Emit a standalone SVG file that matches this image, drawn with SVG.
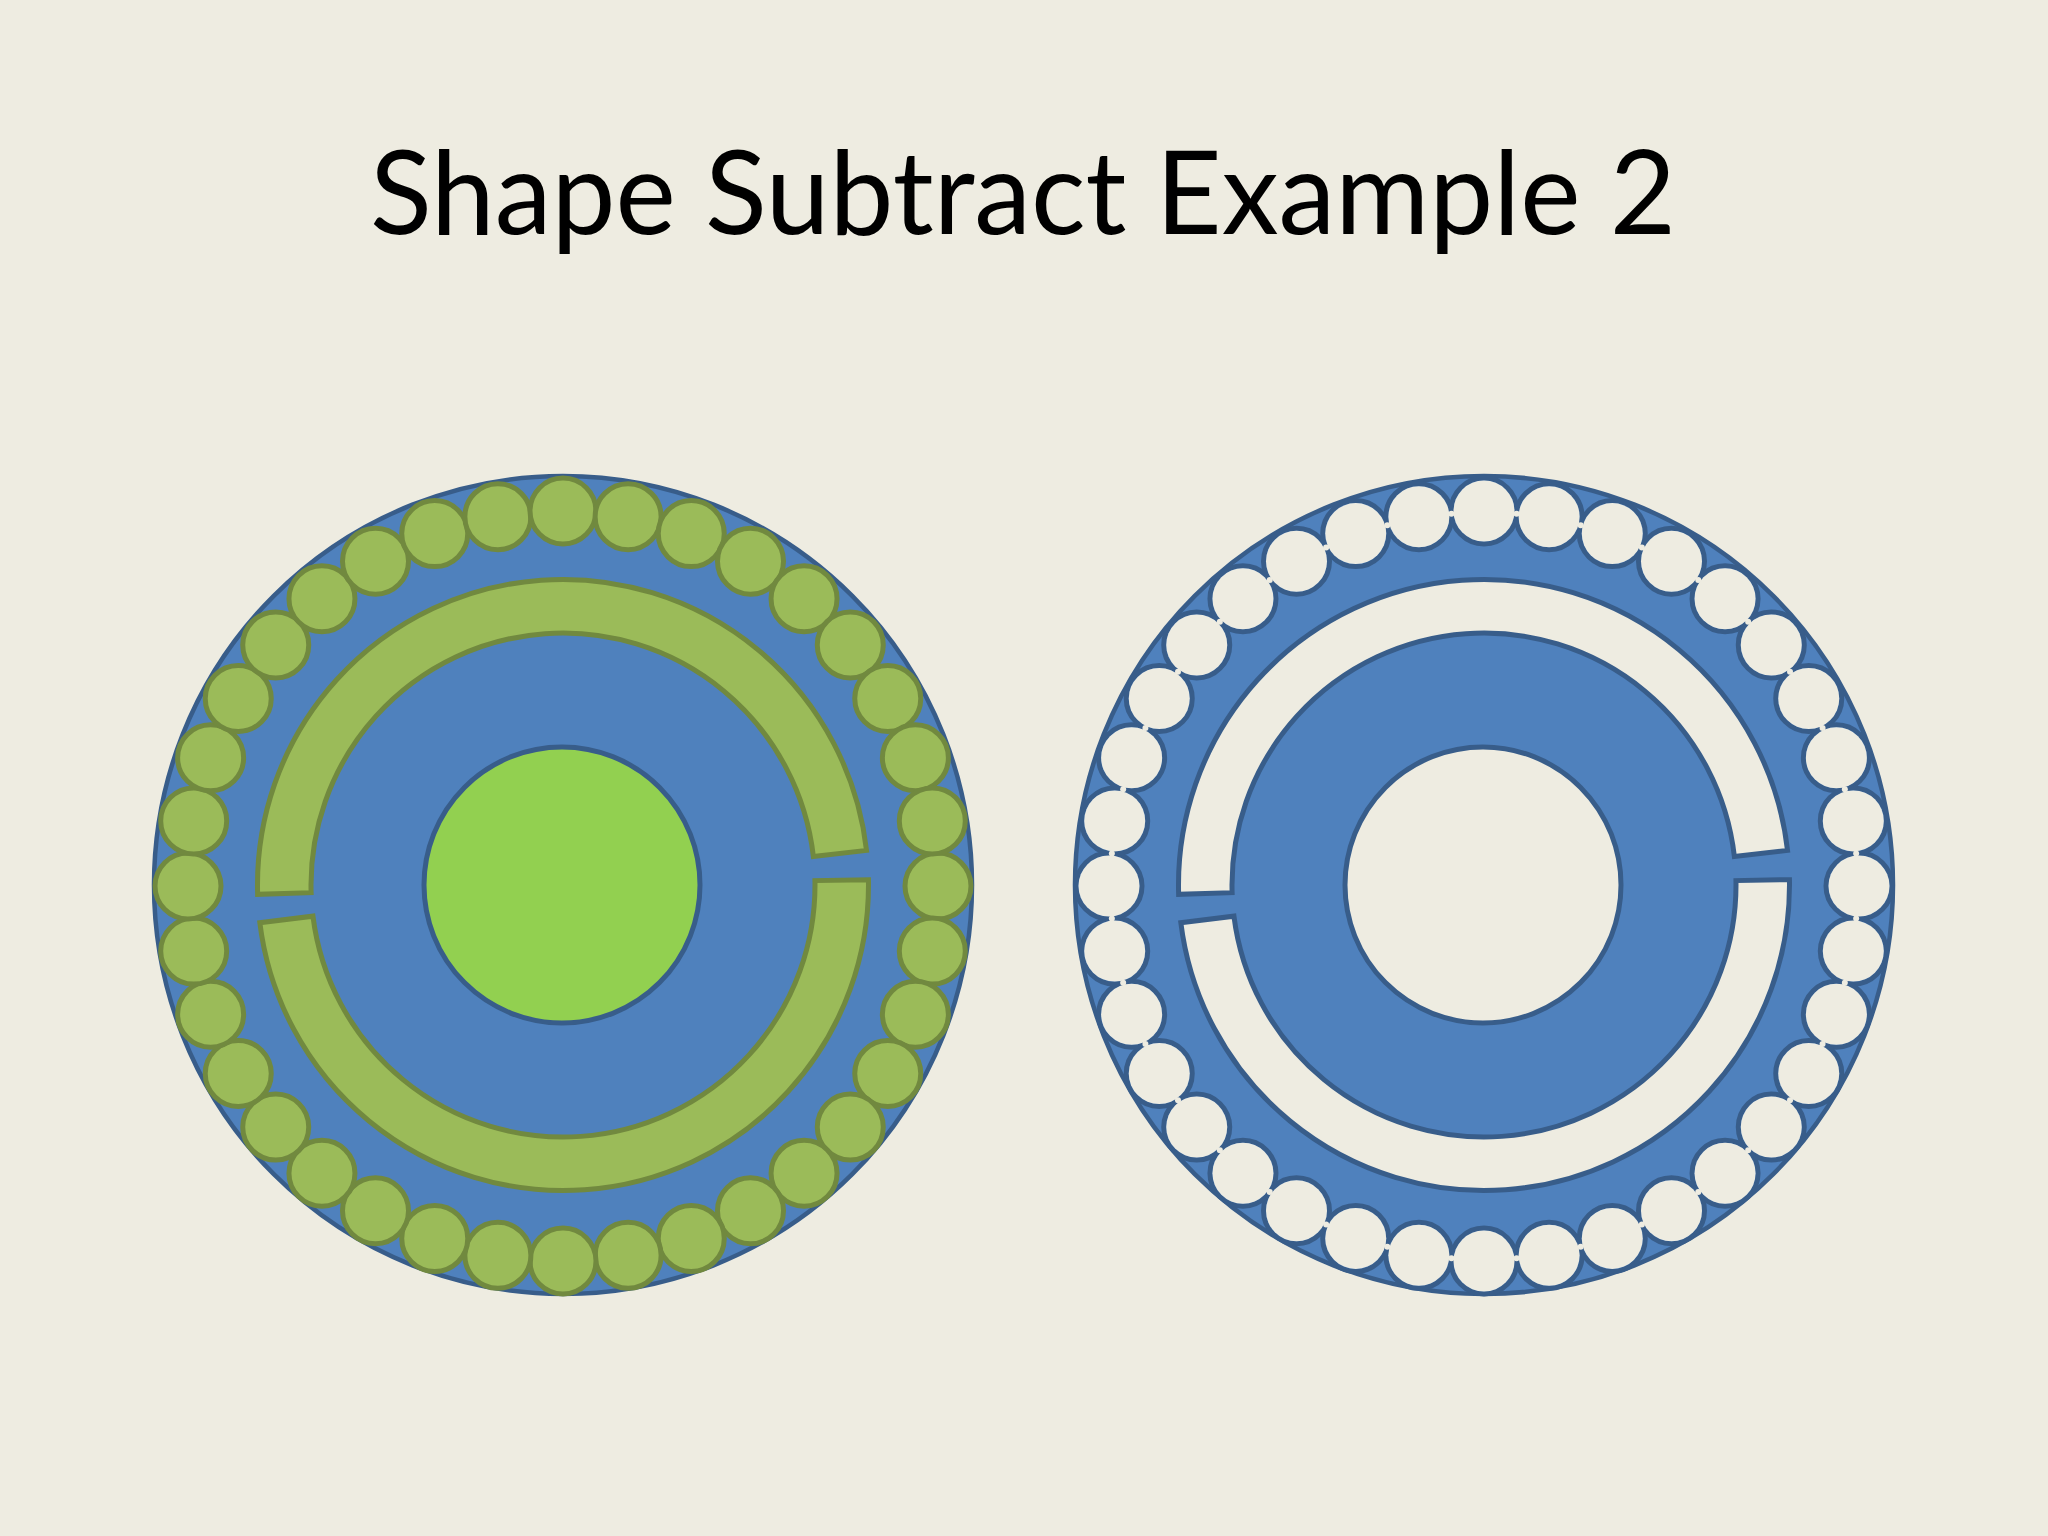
<svg xmlns="http://www.w3.org/2000/svg" xmlns:xlink="http://www.w3.org/1999/xlink" width="2048" height="1536" viewBox="0 0 2048 1536">
  <style>
    .title { font-family: Lato, "Liberation Sans", sans-serif; font-size: 116px; fill: #000000; }
    .disk { fill: #4F81BD; stroke: #385D8A; stroke-width: 4.5; }
    .garc { fill: #9BBB59; stroke: #71893F; stroke-width: 5; stroke-linejoin: miter; }
    .core { fill: #92D050; stroke: #385D8A; stroke-width: 5; }
    .hole { fill: #EEECE1; stroke: #385D8A; stroke-width: 5; stroke-linejoin: miter; }
  </style>
  <defs>
    <g id="ring33">
      <circle cx="375" cy="0" r="33"/><circle cx="369.30" cy="65.12" r="33"/><circle cx="352.38" cy="128.26" r="33"/>
      <circle cx="324.76" cy="187.5" r="33"/><circle cx="287.27" cy="241.05" r="33"/><circle cx="241.05" cy="287.27" r="33"/>
      <circle cx="187.5" cy="324.76" r="33"/><circle cx="128.26" cy="352.38" r="33"/><circle cx="65.12" cy="369.30" r="33"/>
      <circle cx="0" cy="375" r="33"/><circle cx="-65.12" cy="369.30" r="33"/><circle cx="-128.26" cy="352.38" r="33"/>
      <circle cx="-187.5" cy="324.76" r="33"/><circle cx="-241.05" cy="287.27" r="33"/><circle cx="-287.27" cy="241.05" r="33"/>
      <circle cx="-324.76" cy="187.5" r="33"/><circle cx="-352.38" cy="128.26" r="33"/><circle cx="-369.30" cy="65.12" r="33"/>
      <circle cx="-375" cy="0" r="33"/><circle cx="-369.30" cy="-65.12" r="33"/><circle cx="-352.38" cy="-128.26" r="33"/>
      <circle cx="-324.76" cy="-187.5" r="33"/><circle cx="-287.27" cy="-241.05" r="33"/><circle cx="-241.05" cy="-287.27" r="33"/>
      <circle cx="-187.5" cy="-324.76" r="33"/><circle cx="-128.26" cy="-352.38" r="33"/><circle cx="-65.12" cy="-369.30" r="33"/>
      <circle cx="0" cy="-375" r="33"/><circle cx="65.12" cy="-369.30" r="33"/><circle cx="128.26" cy="-352.38" r="33"/>
      <circle cx="187.5" cy="-324.76" r="33"/><circle cx="241.05" cy="-287.27" r="33"/><circle cx="287.27" cy="-241.05" r="33"/>
      <circle cx="324.76" cy="-187.5" r="33"/><circle cx="352.38" cy="-128.26" r="33"/><circle cx="369.30" cy="-65.12" r="33"/>
    </g>
    <g id="ring30">
      <circle cx="375" cy="0" r="30.5"/><circle cx="369.30" cy="65.12" r="30.5"/><circle cx="352.38" cy="128.26" r="30.5"/>
      <circle cx="324.76" cy="187.5" r="30.5"/><circle cx="287.27" cy="241.05" r="30.5"/><circle cx="241.05" cy="287.27" r="30.5"/>
      <circle cx="187.5" cy="324.76" r="30.5"/><circle cx="128.26" cy="352.38" r="30.5"/><circle cx="65.12" cy="369.30" r="30.5"/>
      <circle cx="0" cy="375" r="30.5"/><circle cx="-65.12" cy="369.30" r="30.5"/><circle cx="-128.26" cy="352.38" r="30.5"/>
      <circle cx="-187.5" cy="324.76" r="30.5"/><circle cx="-241.05" cy="287.27" r="30.5"/><circle cx="-287.27" cy="241.05" r="30.5"/>
      <circle cx="-324.76" cy="187.5" r="30.5"/><circle cx="-352.38" cy="128.26" r="30.5"/><circle cx="-369.30" cy="65.12" r="30.5"/>
      <circle cx="-375" cy="0" r="30.5"/><circle cx="-369.30" cy="-65.12" r="30.5"/><circle cx="-352.38" cy="-128.26" r="30.5"/>
      <circle cx="-324.76" cy="-187.5" r="30.5"/><circle cx="-287.27" cy="-241.05" r="30.5"/><circle cx="-241.05" cy="-287.27" r="30.5"/>
      <circle cx="-187.5" cy="-324.76" r="30.5"/><circle cx="-128.26" cy="-352.38" r="30.5"/><circle cx="-65.12" cy="-369.30" r="30.5"/>
      <circle cx="0" cy="-375" r="30.5"/><circle cx="65.12" cy="-369.30" r="30.5"/><circle cx="128.26" cy="-352.38" r="30.5"/>
      <circle cx="187.5" cy="-324.76" r="30.5"/><circle cx="241.05" cy="-287.27" r="30.5"/><circle cx="287.27" cy="-241.05" r="30.5"/>
      <circle cx="324.76" cy="-187.5" r="30.5"/><circle cx="352.38" cy="-128.26" r="30.5"/><circle cx="369.30" cy="-65.12" r="30.5"/>
    </g>
    <g id="necks">
      <circle cx="372.15" cy="32.56" r="3"/><circle cx="360.84" cy="96.69" r="3"/><circle cx="338.57" cy="157.88" r="3"/>
      <circle cx="306.01" cy="214.27" r="3"/><circle cx="264.15" cy="264.15" r="3"/><circle cx="214.27" cy="306.01" r="3"/>
      <circle cx="157.88" cy="338.57" r="3"/><circle cx="96.69" cy="360.84" r="3"/><circle cx="32.56" cy="372.15" r="3"/>
      <circle cx="-372.15" cy="32.56" r="3"/><circle cx="-360.84" cy="96.69" r="3"/><circle cx="-338.57" cy="157.88" r="3"/>
      <circle cx="-306.01" cy="214.27" r="3"/><circle cx="-264.15" cy="264.15" r="3"/><circle cx="-214.27" cy="306.01" r="3"/>
      <circle cx="-157.88" cy="338.57" r="3"/><circle cx="-96.69" cy="360.84" r="3"/><circle cx="-32.56" cy="372.15" r="3"/>
      <circle cx="372.15" cy="-32.56" r="3"/><circle cx="360.84" cy="-96.69" r="3"/><circle cx="338.57" cy="-157.88" r="3"/>
      <circle cx="306.01" cy="-214.27" r="3"/><circle cx="264.15" cy="-264.15" r="3"/><circle cx="214.27" cy="-306.01" r="3"/>
      <circle cx="157.88" cy="-338.57" r="3"/><circle cx="96.69" cy="-360.84" r="3"/><circle cx="32.56" cy="-372.15" r="3"/>
      <circle cx="-372.15" cy="-32.56" r="3"/><circle cx="-360.84" cy="-96.69" r="3"/><circle cx="-338.57" cy="-157.88" r="3"/>
      <circle cx="-306.01" cy="-214.27" r="3"/><circle cx="-264.15" cy="-264.15" r="3"/><circle cx="-214.27" cy="-306.01" r="3"/>
      <circle cx="-157.88" cy="-338.57" r="3"/><circle cx="-96.69" cy="-360.84" r="3"/><circle cx="-32.56" cy="-372.15" r="3"/>
    </g>
    <path id="arcUpper" d="M257.64,894.33 A305.5,305.5 0 0 1 866.54,850.42 L813.38,856.47 A252,252 0 0 0 311.12,892.70 Z"/>
    <path id="arcLower" d="M868.45,879.67 A305.5,305.5 0 0 1 259.84,922.76 L312.93,916.15 A252,252 0 0 0 814.96,880.60 Z"/>
  </defs>

  <rect x="0" y="0" width="2048" height="1536" fill="#EEECE1"/>

  <text class="title" x="1023" y="234" text-anchor="middle" textLength="1306" lengthAdjust="spacingAndGlyphs">Shape Subtract Example 2</text>

  <g id="left-figure">
    <circle class="disk" cx="563" cy="885" r="409"/>
    <use href="#arcUpper" class="garc"/>
    <use href="#arcLower" class="garc"/>
    <circle class="core" cx="562" cy="885" r="138"/>
    <use href="#ring33" transform="translate(563,886)" fill="#9BBB59" stroke="#71893F" stroke-width="5"/>
  </g>

  <g id="right-figure">
    <circle class="disk" cx="1484" cy="885" r="409"/>
    <use href="#ring33" transform="translate(1484,886)" fill="none" stroke="#385D8A" stroke-width="5"/>
    <use href="#ring30" transform="translate(1484,886)" fill="#EEECE1" stroke="none"/>
    <use href="#necks" transform="translate(1484,886)" fill="#EEECE1" stroke="none"/>
    <g transform="translate(921,0)">
      <use href="#arcUpper" class="hole"/>
      <use href="#arcLower" class="hole"/>
    </g>
    <circle class="hole" cx="1483" cy="885" r="138"/>
  </g>
</svg>
